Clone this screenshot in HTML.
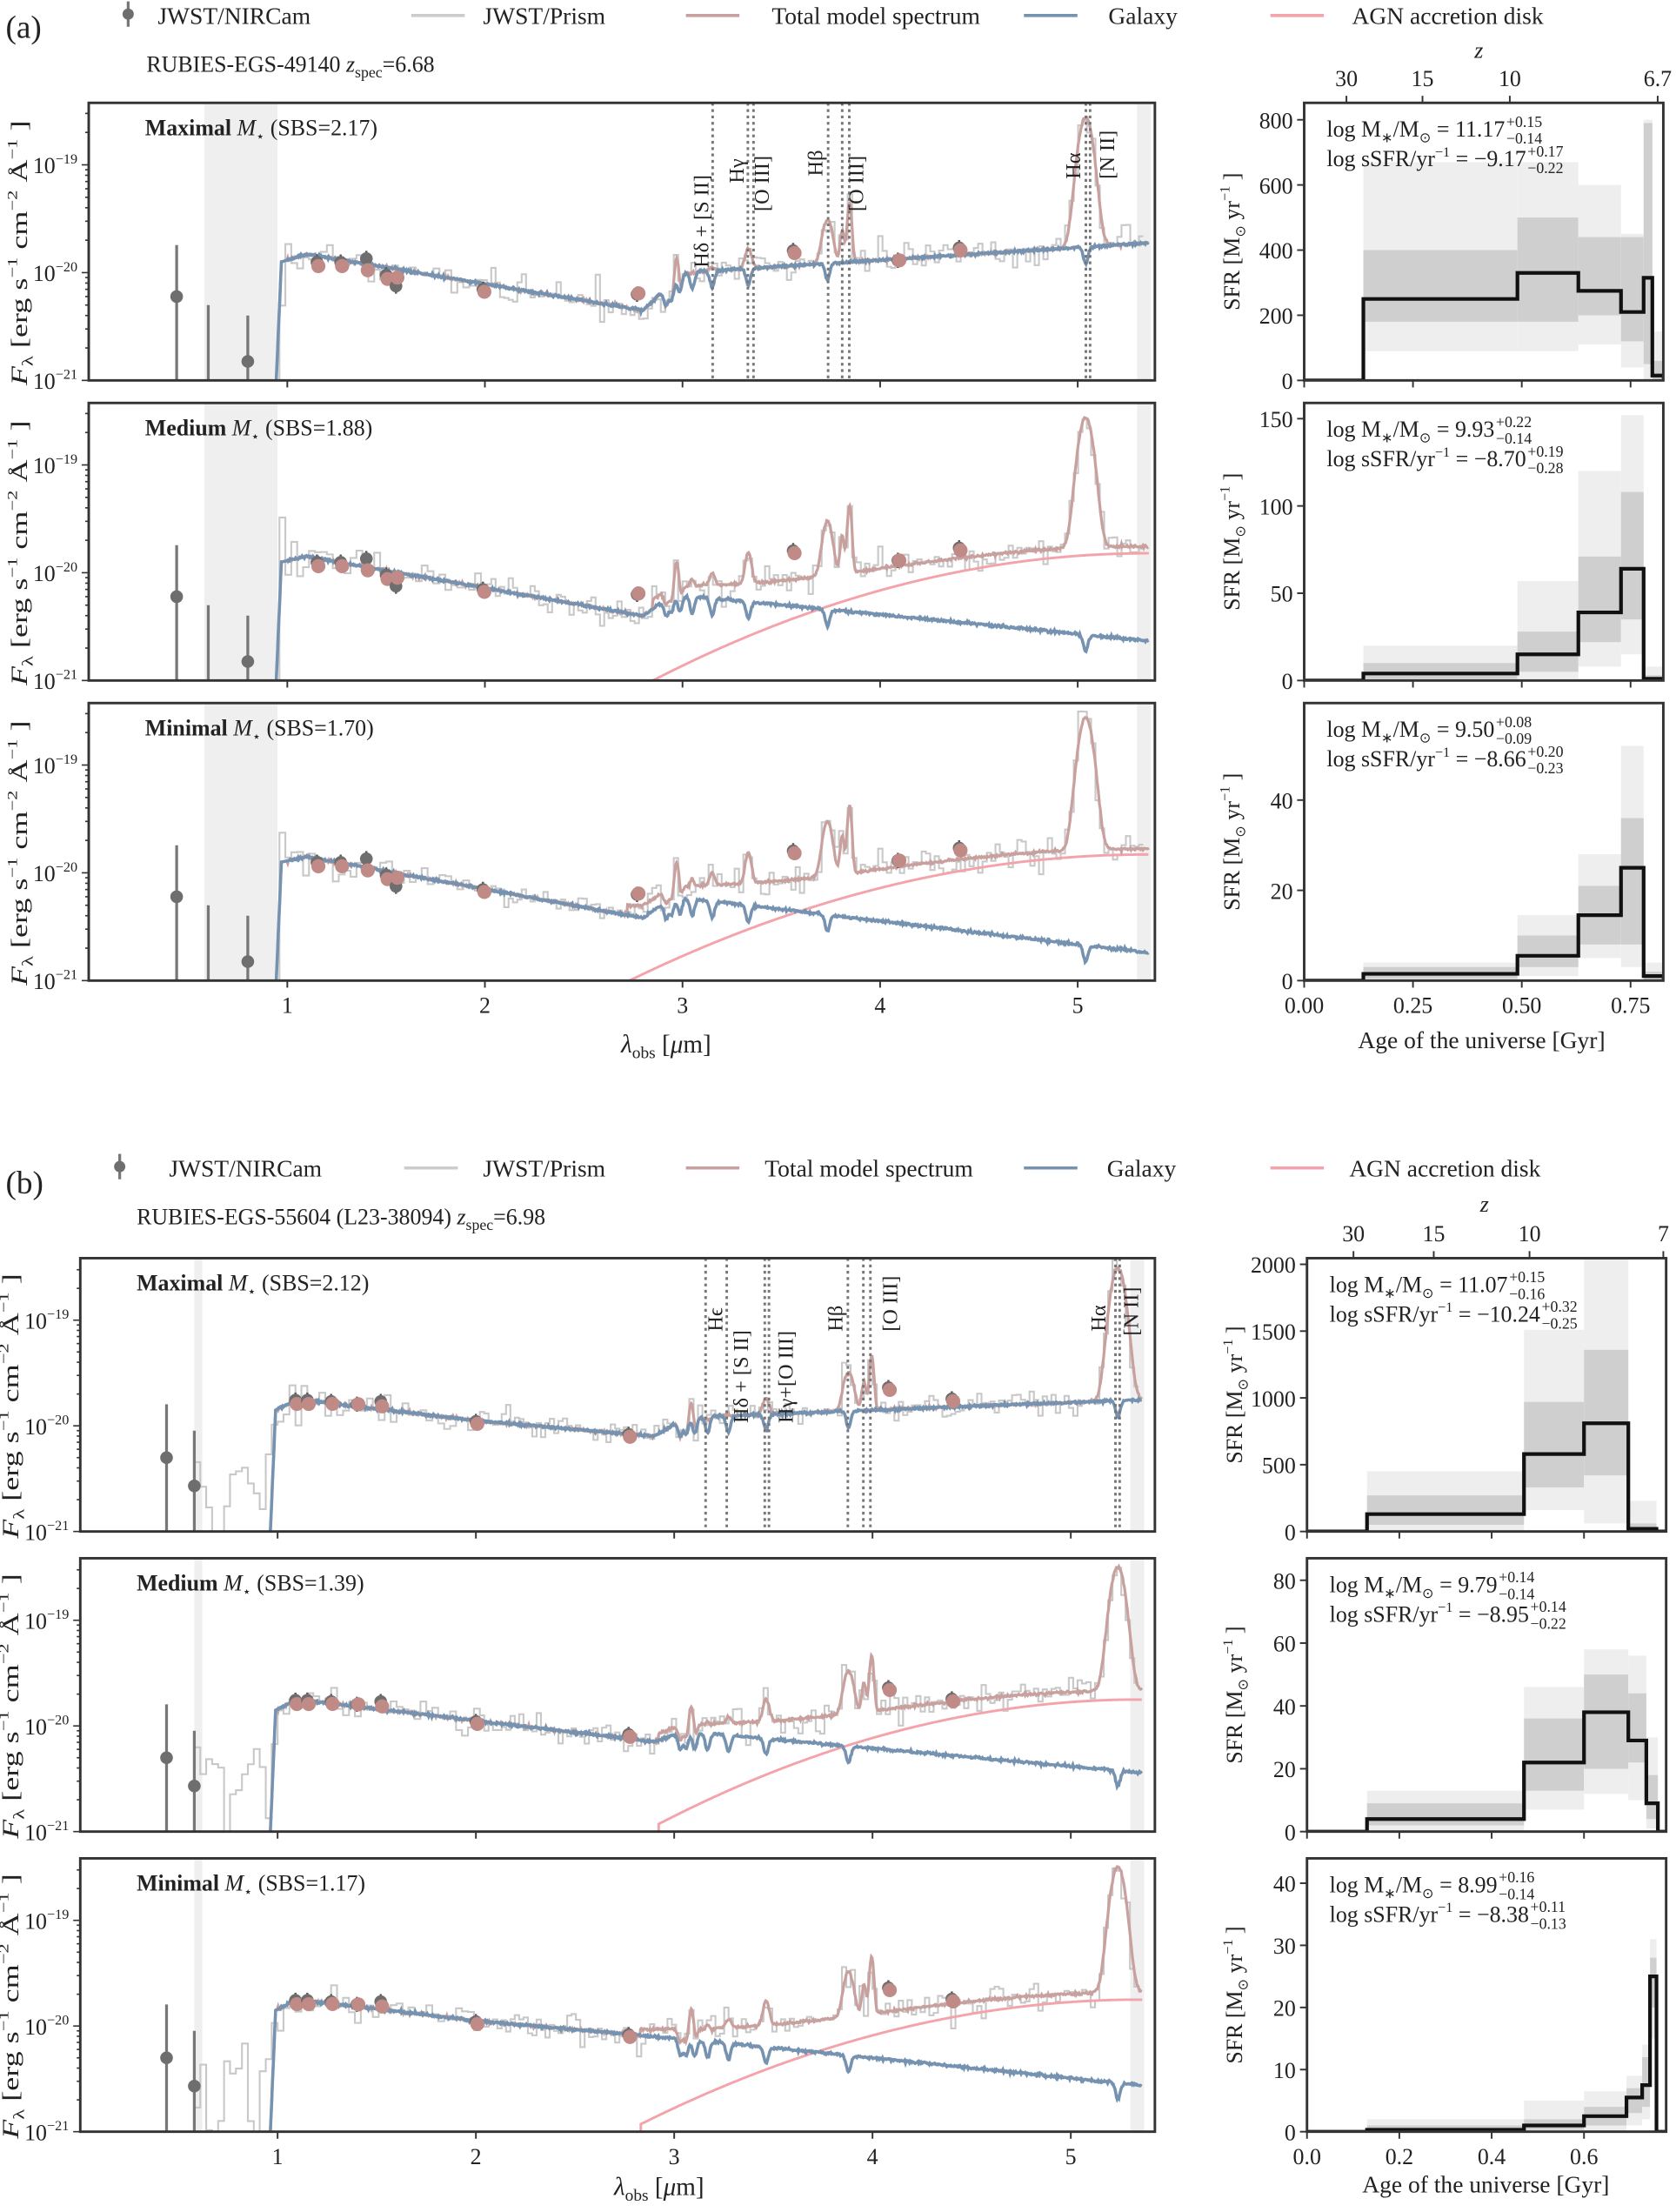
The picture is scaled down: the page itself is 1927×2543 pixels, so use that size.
<!DOCTYPE html>
<html><head><meta charset="utf-8"><style>
html,body{margin:0;padding:0;background:#fff;overflow:hidden}
svg{display:block}
text{font-family:"Liberation Serif",serif;fill:#222}
</style></head><body>
<svg id="s" xmlns="http://www.w3.org/2000/svg" width="1927" height="2543" viewBox="0 0 1190 1570" preserveAspectRatio="none"></svg>
<script>
const S=[];const add=s=>S.push(s);let cid=0;const ANN=[];
function rng(seed){let s=seed;return()=>{s=(s*16807)%2147483647;return s/2147483647}}
function gn(r){return Math.sqrt(-2*Math.log(r()+1e-9))*Math.cos(2*Math.PI*r())}
function interp(k,l){if(l<=k[0][0])return k[0][1];for(let i=1;i<k.length;i++){if(l<=k[i][0]){const a=k[i-1],b=k[i];return a[1]+(b[1]-a[1])*(l-a[0])/(b[0]-a[0]);}}return k[k.length-1][1];}
const G=(l,c,w)=>Math.exp(-0.5*((l-c)/w)**2);
const sup=(t)=>`<tspan dy="-7" font-size="10">${t}</tspan><tspan dy="7"> </tspan>`;
const star=`<tspan font-family="DejaVu Sans" font-size="10" dy="4">⋆</tspan>`;
function spec(o){
 const z1=1+o.z;
 const X=l=>o.x0+o.sx*l, Y=f=>o.y21-(Math.log10(Math.max(f,1e-24))+21)*o.sy;
 const balmer=[.6563,.4861,.4340,.4102,.3970,.3889,.3835,.3798].map(v=>v*z1);
 const gal=l=>{if(l<o.knots[0][0])return 1e-24;let f=Math.pow(10,interp(o.knots,l));balmer.forEach(c=>f*=1-0.3*G(l,c,0.012));return f;};
 const agn=l=>{if(!o.agn||l<o.agn[0])return 0;return Math.pow(10,o.agn[1]-1.18*((5.35-l)/(5.35-o.agn[0]))**2)};
 const lines=[[.6563,o.ha,0.033],[.4861,2.2e-20,0.022],[.4959,1.2e-20,0.01],[.5007,3.2e-20,0.01],[.4340,9e-21,0.014],[.4102,4e-21,0.012],[.3869,6e-21,0.01],[.3970,3e-21,0.01]];
 const lf=l=>{let s=0;lines.forEach(([c,a,w])=>s+=a*G(l,c*z1,w));return s};
 const tot=l=>gal(l)+agn(l)+lf(l);
 const id='c'+(cid++);
 add(`<clipPath id="${id}"><rect x="${o.L}" y="${o.T}" width="${o.R-o.L}" height="${o.B-o.T}"/></clipPath><g clip-path="url(#${id})">`);
 o.shade.forEach(([a,b])=>add(`<rect x="${X(a)}" y="${o.T}" width="${X(b)-X(a)}" height="${o.B-o.T}" fill="#efefef"/>`));
 const r=rng(o.seed);let d='';
 for(let l=o.ps;l<5.33;){const w=l<2?0.03:0.022;let f;
  if(l<o.knots[0][0]+0.02){f=o.pre?Math.pow(10,-21.3+r()*1.35):1e-23;}
  else{f=tot(l+w/2)*Math.pow(10,gn(r)*(l<1.3?0.1:0.07));}
  const y=Y(f).toFixed(1);
  d+=(d?`L${X(l).toFixed(1)},${y}`:`M${X(l).toFixed(1)},${y}`)+`L${X(l+w).toFixed(1)},${y}`;l+=w;}
 add(`<path d="${d}" fill="none" stroke="#c8c8c8" stroke-width="1.3"/>`);
 const r2=rng(o.seed+5);
 const curve=(fn,a,b,col,sw,nz)=>{let p='';for(let l=a;l<=b;l+=0.004){const f=fn(l)*(nz&&l>1?Math.pow(10,gn(r2)*0.006):1);p+=(p?'L':'M')+X(l).toFixed(1)+','+Y(f).toFixed(1)}add(`<path d="${p}" fill="none" stroke="${col}" stroke-width="${sw}"/>`)};
 if(o.agn)curve(agn,o.agn[0]-0.05,5.36,'#f4a3ab',1.8);
 curve(tot,o.knots[0][0],5.36,'#c8a19f',2,1);
 curve(gal,o.knots[0][0],5.36,'#7592b0',2.2,1);
 o.phot.forEach(p=>{const x=X(p[0]);if(p[2]!==undefined)add(`<line x1="${x}" x2="${x}" y1="${Y(p[2])}" y2="${Y(p[3])}" stroke="#777" stroke-width="2"/>`);
  else add(`<line x1="${x}" x2="${x}" y1="${Y(p[1]*0.85)}" y2="${Y(p[1]*1.18)}" stroke="#555" stroke-width="1.5"/>`);
  add(`<circle cx="${x}" cy="${Y(p[1])}" r="4.5" fill="#6e6e6e"/>`);
  if(p[2]===undefined)add(`<circle cx="${x+1}" cy="${Y(p[1]*(p[4]||0.92))}" r="5" fill="#c08a86"/>`);});
 add('</g>');
 if(o.marks){o.marks.forEach(m=>add(`<line x1="${m}" x2="${m}" y1="${o.T}" y2="${o.B}" stroke="#777" stroke-width="1.8" stroke-dasharray="2,2.5"/>`));
  o.labs.forEach(([x,y,t])=>add(`<text transform="translate(${x},${y}) rotate(-90)" font-size="15">${t}</text>`));}
 add(`<rect x="${o.L}" y="${o.T}" width="${o.R-o.L}" height="${o.B-o.T}" fill="none" stroke="#333" stroke-width="1.8"/>`);
 for(let i=1;i<=5;i++){add(`<line x1="${X(i)}" x2="${X(i)}" y1="${o.B}" y2="${o.B+5}" stroke="#333" stroke-width="1.2"/>`);if(o.xl)add(`<text x="${X(i)}" y="${o.B+23}" font-size="16" text-anchor="middle">${i}</text>`);}
 for(let e=-21;e<=-19;e++){for(let m=1;m<10;m++){const y=o.y21-(e+21+Math.log10(m))*o.sy;if(y<o.T-0.5)continue;
  add(`<line x1="${o.L-(m==1?5:2.5)}" x2="${o.L}" y1="${y}" y2="${y}" stroke="#333" stroke-width="1"/>`);}
  add(`<text x="${o.L-8}" y="${o.y21-(e+21)*o.sy+6}" font-size="16" text-anchor="end">10${sup('−'+(-e))}</text>`);}
 add(`<text transform="translate(${o.L-44},${(o.T+o.B)/2+8}) rotate(-90)" font-size="16" text-anchor="middle" textLength="188" lengthAdjust="spacingAndGlyphs"><tspan font-style="italic">F</tspan><tspan font-size="11" dy="4">λ</tspan><tspan dy="-4"> [erg s</tspan>${sup('−1')}cm${sup('−2')}Å${sup('−1')}]</text>`);
 add(`<text x="${o.L+40}" y="${o.T+23}" font-size="16"><tspan font-weight="bold">${o.name}</tspan> <tspan font-style="italic">M</tspan>${star}<tspan dy="-4"> (SBS=${o.sbs})</tspan></text>`);
}
function sfr(o){
 const X=a=>o.x0+o.sx*a, Y=v=>o.B-(v/o.ym)*(o.B-o.T);const id='c'+(cid++);
 add(`<clipPath id="${id}"><rect x="${o.L}" y="${o.T}" width="${o.R-o.L}" height="${o.B-o.T}"/></clipPath><g clip-path="url(#${id})">`);
 o.bins.forEach(b=>{add(`<rect x="${X(b[0])}" y="${Y(b[6])}" width="${X(b[1])-X(b[0])}" height="${Y(b[5])-Y(b[6])}" fill="#eeeeee"/>`);
  add(`<rect x="${X(b[0])}" y="${Y(b[4])}" width="${X(b[1])-X(b[0])}" height="${Y(b[3])-Y(b[4])}" fill="#cfcfcf"/>`);});
 let d=`M${o.L},${Y(0)}L${X(o.bins[0][0])},${Y(0)}`;o.bins.forEach(b=>{d+=`L${X(b[0])},${Y(b[2])}L${X(b[1])},${Y(b[2])}`});d+=`L${X(o.bins[o.bins.length-1][1])},${Y(0)}L${o.R},${Y(0)}`;
 add(`<path d="${d}" fill="none" stroke="#111" stroke-width="2.6"/></g>`);
 add(`<rect x="${o.L}" y="${o.T}" width="${o.R-o.L}" height="${o.B-o.T}" fill="none" stroke="#333" stroke-width="1.8"/>`);
 o.yt.forEach(v=>{add(`<line x1="${o.L-5}" x2="${o.L}" y1="${Y(v)}" y2="${Y(v)}" stroke="#333" stroke-width="1.2"/><text x="${o.L-8}" y="${Y(v)+6}" font-size="16" text-anchor="end">${v}</text>`)});
 o.xt.forEach(v=>{add(`<line x1="${X(+v)}" x2="${X(+v)}" y1="${o.B}" y2="${o.B+5}" stroke="#333" stroke-width="1.2"/>`);if(o.xl)add(`<text x="${X(+v)}" y="${o.B+23}" font-size="16" text-anchor="middle">${v}</text>`)});
 add(`<text transform="translate(${o.L-46},${(o.T+o.B)/2}) rotate(-90)" font-size="16" text-anchor="middle">SFR [M<tspan font-size="10" dy="4">⊙</tspan><tspan dy="-4"> yr</tspan>${sup('−1')}]</text>`);
 const i1='a'+(cid++),i2='a'+(cid++);
 add(`<text id="${i1}" x="${o.L+16}" y="${o.T+24}" font-size="16">log M<tspan font-size="10" dy="4">∗</tspan><tspan dy="-4">/M</tspan><tspan font-size="10" dy="4">⊙</tspan><tspan dy="-4"> = ${o.m[0]}</tspan></text>`);
 add(`<text id="${i2}" x="${o.L+16}" y="${o.T+45}" font-size="16">log sSFR/yr${sup('−1')}= ${o.s[0]}</text>`);
 ANN.push([i1,o.L+16,o.T+24,o.m[1],o.m[2]],[i2,o.L+16,o.T+45,o.s[1],o.s[2]]);
}
function legend(y,xs){
 add(`<line x1="${xs[0]}" x2="${xs[0]}" y1="${y-10}" y2="${y+8}" stroke="#777" stroke-width="2"/><circle cx="${xs[0]}" cy="${y-1}" r="4" fill="#6e6e6e"/><text x="${xs[1]}" y="${y+6}" font-size="17">JWST/NIRCam</text>`);
 const it=[['#cccccc','JWST/Prism'],['#c8a19f','Total model spectrum'],['#7592b0','Galaxy'],['#f4a3ab','AGN accretion disk']];
 it.forEach((t,i)=>{const x=xs[2+i*2];add(`<line x1="${x}" x2="${x+38}" y1="${y}" y2="${y}" stroke="${t[0]}" stroke-width="2.2"/><text x="${xs[3+i*2]}" y="${y+6}" font-size="17">${t[1]}</text>`)});
}
function ztop(T,ticks){ticks.forEach(([x,t])=>add(`<line x1="${x}" x2="${x}" y1="${T-5}" y2="${T}" stroke="#333" stroke-width="1.2"/><text x="${x}" y="${T-12}" font-size="16" text-anchor="middle">${t}</text>`));}

// ===== Panel (a)
add(`<text x="4" y="27" font-size="23">(a)</text>`);
legend(11,[91,112,292,343,487,548,727,787,902,960]);
add(`<text x="104" y="51" font-size="16">RUBIES-EGS-49140 <tspan font-style="italic">z</tspan><tspan font-size="11" dy="4">spec</tspan><tspan dy="-4">=6.68</tspan></text>`);
const A={x0:63.7,sx:140.3,L:63,R:820,z:6.68,shade:[[0.58,0.95],[5.3,5.37]],ps:0.6,ha:2.6e-19};
const photA=[[0.44,6e-21,1e-22,1.8e-20],[0.6,5e-22,1e-22,5e-21],[0.8,1.5e-21,1e-22,4e-21],[1.15,1.25e-20],[1.27,1.25e-20],[1.40,1.35e-20,undefined,undefined,0.78],[1.50,9.5e-21],[1.55,7.5e-21,undefined,undefined,1.2],[1.99,7e-21,undefined,undefined,0.95],[2.77,6.3e-21,undefined,undefined,1.02],[3.56,1.6e-20,undefined,undefined,0.95],[4.09,1.3e-20,undefined,undefined,1.0],[4.40,1.7e-20,undefined,undefined,0.95]];
spec(Object.assign({},A,{T:73,B:270,y21:270,sy:76.5,seed:11,knots:[[0.93,-21.6],[0.97,-19.9],[1.1,-19.83],[2.8,-20.35],[3.0,-20.0],[5.4,-19.72]],phot:photA,name:'Maximal',sbs:'2.17',
 marks:[506,531,535,588,598,603,771,774],labs:[[503,190,'Hδ + [S II]'],[528,130,'Hγ'],[546,150,'[O III]'],[584,125,'Hβ'],[613,150,'[O III]'],[767,127,'Hα'],[791,127,'[N II]']]}));
spec(Object.assign({},A,{T:286,B:483,y21:483,sy:76.5,seed:23,knots:[[0.93,-21.6],[0.97,-19.9],[1.1,-19.85],[2.8,-20.4],[2.95,-20.2],[5.4,-20.64]],agn:[2.85,-19.82],phot:photA,name:'Medium',sbs:'1.88'}));
spec(Object.assign({},A,{T:499,B:696,y21:696,sy:76.5,seed:37,knots:[[0.93,-21.6],[0.97,-19.9],[1.1,-19.85],[2.8,-20.42],[2.95,-20.22],[5.4,-20.75]],agn:[2.72,-19.83],phot:photA,name:'Minimal',sbs:'1.70',xl:1}));
add(`<text x="441" y="747" font-size="18"><tspan font-style="italic">λ</tspan><tspan font-size="12" dy="4">obs</tspan><tspan dy="-4"> [</tspan><tspan font-style="italic">μ</tspan>m]</text>`);
const RA={x0:926,sx:309,L:926,R:1181};
const xa=['0.00','0.25','0.50','0.75'];
sfr(Object.assign({},RA,{T:73,B:270,ym:852,yt:[0,200,400,600,800],xt:xa,m:['11.17','+0.15','−0.14'],s:['−9.17','+0.17','−0.22'],
 bins:[[0.136,0.49,250,180,400,90,670],[0.49,0.63,330,180,500,90,670],[0.63,0.728,275,200,440,110,600],[0.728,0.78,210,120,440,40,450],[0.78,0.80,315,50,790,0,800],[0.80,0.826,15,0,60,0,150]]}));
sfr(Object.assign({},RA,{T:286,B:483,ym:159,yt:[0,50,100,150],xt:xa,m:['9.93','+0.22','−0.14'],s:['−8.70','+0.19','−0.28'],
 bins:[[0.136,0.49,4,1,10,0,20],[0.49,0.63,15,5,28,1,57],[0.63,0.728,39,22,71,8,120],[0.728,0.78,64,35,108,15,152],[0.78,0.826,1,0,3,0,8]]}));
sfr(Object.assign({},RA,{T:499,B:696,ym:61.5,yt:[0,20,40],xt:xa,xl:1,m:['9.50','+0.08','−0.09'],s:['−8.66','+0.20','−0.23'],
 bins:[[0.136,0.49,1.5,0.5,3,0,4],[0.49,0.63,5.5,3,10,1,14.5],[0.63,0.728,14.5,8,21,5,28],[0.728,0.78,25,8,36,3,52],[0.78,0.826,1,0,2,0,4]]}));
ztop(73,[[956,'30'],[1010,'15'],[1072,'10'],[1177,'6.7']]);
add(`<text x="1050" y="41" font-size="16" font-style="italic" text-anchor="middle">z</text>`);
add(`<text x="1052" y="744" font-size="17" text-anchor="middle">Age of the universe [Gyr]</text>`);

// ===== Panel (b)
add(`<text x="4" y="847" font-size="23">(b)</text>`);
legend(829,[85,120,287,343,487,543,727,786,902,958]);
add(`<text x="97" y="869" font-size="16">RUBIES-EGS-55604 (L23-38094) <tspan font-style="italic">z</tspan><tspan font-size="11" dy="4">spec</tspan><tspan dy="-4">=6.98</tspan></text>`);
const B={x0:56.3,sx:140.8,L:57,R:820,z:6.98,shade:[[0.58,0.62],[5.3,5.37]],ps:0.55,pre:1,ha:3e-19};
const photB=[[0.44,5e-21,1e-22,1.6e-20],[0.58,2.7e-21,1e-22,9e-21],[1.09,1.75e-20],[1.15,1.75e-20],[1.27,1.7e-20,undefined,undefined,0.95],[1.40,1.6e-20,undefined,undefined,1.0],[1.52,1.7e-20,undefined,undefined,0.9],[2.0,1.1e-20,undefined,undefined,0.95],[2.77,8.3e-21,undefined,undefined,0.95],[4.08,2.3e-20,undefined,undefined,0.95],[4.40,1.8e-20,undefined,undefined,0.95]];
spec(Object.assign({},B,{T:893,B:1087,y21:1087,sy:75,seed:51,knots:[[0.95,-21.6],[0.99,-19.85],[1.1,-19.75],[2.0,-19.95],[2.9,-20.1],[3.05,-19.92],[5.4,-19.75]],phot:photB,name:'Maximal',sbs:'2.12',
 marks:[501,516,543,546,602,613,618,792,795],labs:[[513,945,'Hϵ'],[531,1010,'Hδ + [S II]'],[563,1010,'Hγ+[O III]'],[598,945,'Hβ'],[637,945,'[O III]'],[785,945,'Hα'],[808,948,'[N II]']]}));
spec(Object.assign({},B,{T:1106,B:1300,y21:1300,sy:75,seed:67,knots:[[0.95,-21.6],[0.99,-19.85],[1.1,-19.75],[2.0,-19.95],[2.9,-20.15],[3.05,-20.05],[5.4,-20.45]],agn:[2.92,-19.75],phot:photB,name:'Medium',sbs:'1.39'}));
spec(Object.assign({},B,{T:1319,B:1513,y21:1513,sy:75,seed:79,knots:[[0.95,-21.6],[0.99,-19.85],[1.1,-19.75],[2.0,-19.95],[2.9,-20.1],[3.05,-20.12],[5.4,-20.57]],agn:[2.83,-19.75],phot:photB,name:'Minimal',sbs:'1.17',xl:1}));
add(`<text x="436" y="1558" font-size="18"><tspan font-style="italic">λ</tspan><tspan font-size="12" dy="4">obs</tspan><tspan dy="-4"> [</tspan><tspan font-style="italic">μ</tspan>m]</text>`);
const RB={x0:928,sx:327.8,L:928,R:1183};
const xb=['0.0','0.2','0.4','0.6'];
sfr(Object.assign({},RB,{T:893,B:1087,ym:2046,yt:[0,500,1000,1500,2000],xt:xb,m:['11.07','+0.15','−0.16'],s:['−10.24','+0.32','−0.25'],
 bins:[[0.13,0.47,130,50,270,0,450],[0.47,0.6,580,330,970,160,1510],[0.6,0.696,810,420,1360,60,2050],[0.696,0.757,20,0,60,0,230]]}));
sfr(Object.assign({},RB,{T:1106,B:1300,ym:87,yt:[0,20,40,60,80],xt:xb,m:['9.79','+0.14','−0.14'],s:['−8.95','+0.14','−0.22'],
 bins:[[0.13,0.47,4,2,9,0,13],[0.47,0.6,22,13,36,7,46],[0.6,0.696,38,20,50,12,58],[0.696,0.735,29,22,44,10,56],[0.735,0.76,9,4,18,1,30]]}));
sfr(Object.assign({},RB,{T:1319,B:1513,ym:44,yt:[0,10,20,30,40],xt:xb,xl:1,m:['8.99','+0.16','−0.14'],s:['−8.38','+0.11','−0.13'],
 bins:[[0.13,0.47,0.3,0,1,0,2],[0.47,0.6,1,0.3,2,0,5],[0.6,0.692,2.5,1,4,0,6.5],[0.692,0.726,5.5,3,7,1,9],[0.726,0.743,7.5,4,12,2,14],[0.743,0.757,25,20,28,15,31]]}));
ztop(893,[[961,'30'],[1018,'15'],[1086,'10'],[1181,'7']]);
add(`<text x="1054" y="860" font-size="16" font-style="italic" text-anchor="middle">z</text>`);
add(`<text x="1055" y="1556" font-size="17" text-anchor="middle">Age of the universe [Gyr]</text>`);
const svg=document.getElementById('s');
svg.innerHTML=S.join('');
let extra='';
ANN.forEach(([id,x,y,a,b])=>{let w=110;try{w=document.getElementById(id).getComputedTextLength();}catch(e){}
 const xx=x+w+1;extra+=`<text x="${xx}" y="${y-7}" font-size="11">${a}</text><text x="${xx}" y="${y+5}" font-size="11">${b}</text>`;});
svg.insertAdjacentHTML('beforeend',extra);
</script>
</body></html>
